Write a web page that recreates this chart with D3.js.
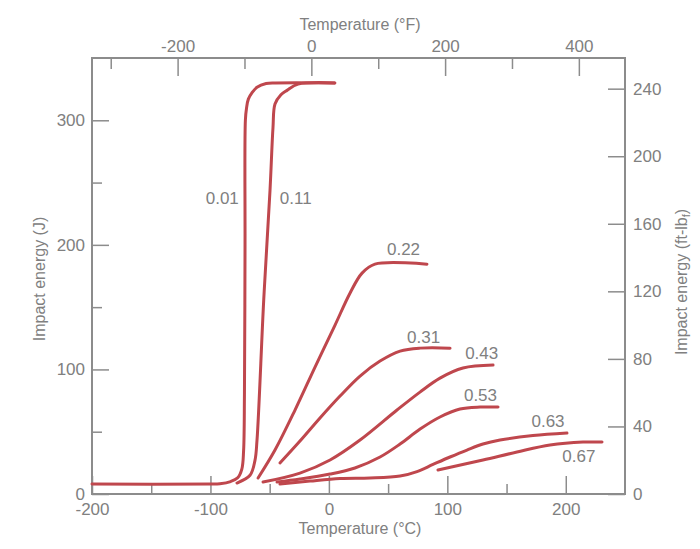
<!DOCTYPE html>
<html>
<head>
<meta charset="utf-8" />
<title>Impact energy vs temperature</title>
<style>
  body { margin: 0; background: #fff; }
  text { font-family: "Liberation Sans", Arial, sans-serif; fill: #808080; }
  .curve { fill: none; stroke: #bf474d; stroke-width: 3px; stroke-linecap: round; }
  .tick line { stroke: #8c8c8c; stroke-width: 1.5px; }
  .tick text { font-size: 17px; }
  .title { font-size: 16px; }
  .clabel { font-size: 17px; }
</style>
</head>
<body>
<script src="https://d3js.org/d3.v7.min.js"></script>
<script>
// carbon content (wt% C) of each curve
var carbon = ["0.01", "0.11", "0.22", "0.31", "0.43", "0.53", "0.63", "0.67"];

// [temperature °C, impact energy J]
var c001 = [[-200, 8], [-100, 8], [-92, 8.3], [-83, 10], [-77, 13], [-73.5, 20], [-72, 35], [-71.3, 80],
            [-70.8, 200], [-70.5, 300], [-69.5, 310], [-68, 317], [-65, 322], [-60.7, 326.5], [-53, 329.5], [-45, 330], [5, 330]];
var c011 = [[-77.6, 8.8], [-66.6, 15], [-62.4, 27], [-60.7, 43], [-55, 156], [-49.7, 244], [-47.2, 294],
            [-45.5, 313], [-40.5, 320.5], [-35.4, 324], [-26, 329], [5, 330]];
var c022 = [[-59.8, 12.8], [-45.5, 35.3], [-28.6, 67.4], [-11.7, 101.9], [5.2, 135.6], [17.8, 161.2],
            [28, 177.3], [38.9, 184.5], [82.8, 184.5]];
var c031 = [[-41.3, 24.9], [-24.4, 42.5], [-7.5, 61], [9.4, 78.6], [26.3, 94.7], [43.2, 106.7],
            [60.1, 114.7], [77, 117.1], [102.3, 117.1]];
var c043 = [[-55.6, 9.6], [-24.4, 16.8], [1, 27.3], [26.3, 43.3], [57.5, 67.4], [76.9, 81.8],
            [93.8, 93], [113.2, 101.1], [138.6, 103.5]];
var c053 = [[-43.8, 9.6], [-24.4, 12], [1, 16], [22, 20.9], [43.2, 29.7], [60.1, 40.1], [77, 52.1],
            [93.8, 61.8], [110.7, 68.2], [127.6, 69.8], [142.8, 69.8]];
var c063 = [[-41.3, 8], [-15.9, 10.4], [9.4, 12.4], [34.7, 12.8], [60.1, 14.4], [74.4, 18], [87.9, 23.7],
            [102.3, 29.7], [116.6, 35.3], [130.1, 40.1], [144.5, 43.3], [172.3, 46.9], [201, 48.9]];
var c067 = [[92.1, 19.3], [130.1, 27.3], [158.8, 33.7], [186.7, 39.3], [214.5, 41.7], [230.6, 41.7]];
var curves = [c001, c011, c022, c031, c043, c053, c063, c067];

// where each carbon label sits, [°C, J]
var labelAt = [[-90, 237], [-28, 237], [63, 196], [80, 126], [129, 113], [128, 79], [185, 58], [211, 30]];

var tickC = [-200, -100, 0, 100, 200], minorC = [-150, -50, 50, 150];
var tickF = [-200, 0, 200, 400], minorF = [-300, -100, 100, 300];
var tickJ = [0, 100, 200, 300], minorJ = [50, 150, 250];
var tickFt = [0, 40, 80, 120, 160, 200, 240];

var width = 700, height = 549;
var mLeft = 92, mRight = 625, mTop = 58, mBottom = 494;

var svg = d3.select("body").append("svg")
    .attr("width", width)
    .attr("height", height);

var x = d3.scaleLinear().domain([-200, 250]).range([mLeft, mRight]);
var xF = d3.scaleLinear().domain([-328, 469]).range([mLeft, mRight]);
var y = d3.scaleLinear().domain([0, 350]).range([mBottom, mTop]);
var yFt = d3.scaleLinear().domain([0, 350 * 0.7376]).range([mBottom, mTop]);

function noDomain(g) { g.select(".domain").remove(); }
var fmt = function(d) { return String(d); };

// bottom axis (°C)
svg.append("g").attr("transform", "translate(0," + mBottom + ")")
    .call(d3.axisBottom(x).tickValues(tickC).tickSizeInner(-18).tickSizeOuter(0).tickPadding(9).tickFormat(fmt))
    .call(noDomain);
svg.append("g").attr("transform", "translate(0," + mBottom + ")")
    .call(d3.axisBottom(x).tickValues(minorC).tickSizeInner(-10).tickSizeOuter(0).tickFormat(""))
    .call(noDomain);

// top axis (°F)
svg.append("g").attr("transform", "translate(0," + mTop + ")")
    .call(d3.axisTop(xF).tickValues(tickF).tickSizeInner(-18).tickSizeOuter(0).tickPadding(6).tickFormat(fmt))
    .call(noDomain);
svg.append("g").attr("transform", "translate(0," + mTop + ")")
    .call(d3.axisTop(xF).tickValues(minorF).tickSizeInner(-11).tickSizeOuter(0).tickFormat(""))
    .call(noDomain);

// left axis (J)
svg.append("g").attr("transform", "translate(" + mLeft + ",0)")
    .call(d3.axisLeft(y).tickValues(tickJ).tickSizeInner(-17).tickSizeOuter(0).tickPadding(7).tickFormat(fmt))
    .call(noDomain);
svg.append("g").attr("transform", "translate(" + mLeft + ",0)")
    .call(d3.axisLeft(y).tickValues(minorJ).tickSizeInner(-10).tickSizeOuter(0).tickFormat(""))
    .call(noDomain);

// right axis (ft-lbf)
svg.append("g").attr("transform", "translate(" + mRight + ",0)")
    .call(d3.axisRight(yFt).tickValues(tickFt).tickSizeInner(-17).tickSizeOuter(0).tickPadding(8).tickFormat(fmt))
    .call(noDomain);

// frame
svg.append("rect")
    .attr("x", mLeft).attr("y", mTop)
    .attr("width", mRight - mLeft).attr("height", mBottom - mTop)
    .attr("fill", "none").attr("stroke", "#8c8c8c").attr("stroke-width", 2);

// curves
var line = d3.line()
    .x(function(d) { return x(d[0]); })
    .y(function(d) { return y(d[1]); })
    .curve(d3.curveCatmullRom.alpha(0.5));

svg.append("g").selectAll("path")
    .data(curves)
    .enter().append("path")
    .attr("class", "curve")
    .attr("d", line);

svg.append("g").selectAll("text")
    .data(carbon)
    .enter().append("text")
    .attr("class", "clabel")
    .attr("x", function(d, i) { return x(labelAt[i][0]); })
    .attr("y", function(d, i) { return y(labelAt[i][1]); })
    .attr("text-anchor", "middle")
    .attr("dominant-baseline", "central")
    .text(function(d) { return d; });

// axis titles
svg.append("text").attr("class", "title")
    .attr("x", 360).attr("y", 534).attr("text-anchor", "middle")
    .text("Temperature (°C)");
svg.append("text").attr("class", "title")
    .attr("x", 360).attr("y", 30).attr("text-anchor", "middle")
    .text("Temperature (°F)");
svg.append("text").attr("class", "title")
    .attr("transform", "translate(45,279) rotate(-90)").attr("text-anchor", "middle")
    .text("Impact energy (J)");
var rt = svg.append("text").attr("class", "title")
    .attr("transform", "translate(687,282) rotate(-90)").attr("text-anchor", "middle");
rt.append("tspan").text("Impact energy (ft-lb");
rt.append("tspan").attr("font-size", "11px").attr("dy", 3).text("f");
rt.append("tspan").attr("dy", -3).text(")");
</script>
</body>
</html>
